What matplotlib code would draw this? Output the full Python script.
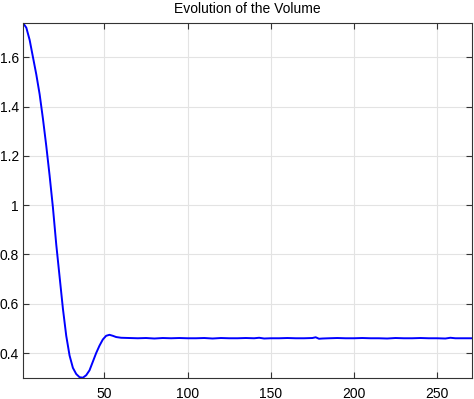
import matplotlib
matplotlib.use("Agg")
import matplotlib.pyplot as plt
import numpy as np

# volume values
iters = [1, 3, 5, 7, 9, 11, 12, 13, 15, 16, 17, 19, 21, 23, 25, 27, 29, 31, 33, 35,
         37, 39, 41, 43, 45, 47, 49, 51, 53, 55, 57, 60, 65, 70, 75, 80, 85, 90, 95,
         100, 105, 110, 115, 120, 125, 130, 135, 140, 143, 146, 150, 155, 160, 165,
         170, 175, 177, 179, 181, 185, 190, 195, 200, 205, 210, 215, 220, 225, 230,
         235, 240, 245, 250, 255, 258, 261, 265, 271]
volume = [1.739, 1.72, 1.67, 1.60, 1.53, 1.45, 1.40, 1.35, 1.24, 1.18, 1.12, 0.99,
          0.84, 0.71, 0.58, 0.47, 0.39, 0.34, 0.315, 0.302, 0.300, 0.31, 0.33, 0.365,
          0.40, 0.43, 0.455, 0.47, 0.474, 0.470, 0.465, 0.462, 0.461, 0.460, 0.461,
          0.459, 0.461, 0.460, 0.461, 0.460, 0.460, 0.461, 0.459, 0.461, 0.460, 0.460,
          0.461, 0.460, 0.462, 0.459, 0.460, 0.460, 0.461, 0.460, 0.460, 0.461, 0.464,
          0.458, 0.459, 0.460, 0.461, 0.460, 0.460, 0.461, 0.460, 0.460, 0.459, 0.461,
          0.460, 0.460, 0.461, 0.460, 0.460, 0.459, 0.462, 0.460, 0.460, 0.460]

plt.rcParams['font.family'] = ['Liberation Sans', 'DejaVu Sans']

fig = plt.figure(figsize=(4.74, 3.99), dpi=100)
ax = fig.add_axes([23 / 474, 1 - 377.7 / 399, 449 / 474, (377.7 - 23) / 399])

ax.plot(iters, volume, color=(0, 0, 1), lw=1.4)
ax.set_xlim(1, 271)
ax.set_ylim(0.300, 1.739)
ax.set_xticks([50, 100, 150, 200, 250])
ax.set_yticks([0.4, 0.6, 0.8, 1.0, 1.2, 1.4, 1.6])
ax.set_yticklabels(['0.4', '0.6', '0.8', '1', '1.2', '1.4', '1.6'])
ax.grid(True, color='#e3e3e3', lw=0.8)
ax.set_axisbelow(True)
ax.tick_params(direction='in', top=True, right=True, length=4, width=0.8,
               color='#333333', labelsize=10)
ax.tick_params(axis='x', pad=7)
ax.tick_params(axis='y', pad=3)
for s in ax.spines.values():
    s.set_color('#333333')
    s.set_linewidth(0.8)
ax.set_title('Evolution of the Volume', fontsize=10, pad=7)

fig.savefig('out.png', dpi=100)
